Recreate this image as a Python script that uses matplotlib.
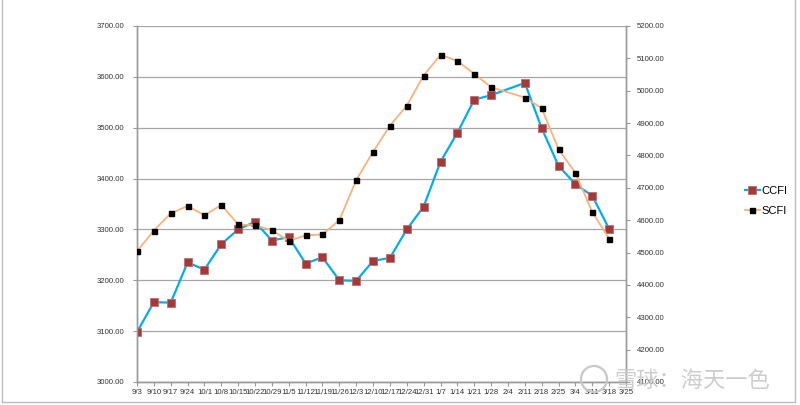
import numpy as np
import matplotlib
matplotlib.use('Agg')
import matplotlib.pyplot as plt
from matplotlib.lines import Line2D
from matplotlib.patches import Ellipse

# weekly index readings (2/4 has no data, holiday week)
dates = ['9/3', '9/10', '9/17', '9/24', '10/1', '10/8', '10/15', '10/22',
         '10/29', '11/5', '11/12', '11/19', '11/26', '12/3', '12/10', '12/17',
         '12/24', '12/31', '1/7', '1/14', '1/21', '1/28', '2/4', '2/11',
         '2/18', '2/25', '3/4', '3/11', '3/18', '3/25']
ccfi = [3098, 3157, 3156, 3235, 3221, 3271, 3300, 3315, 3278, 3285,
        3233, 3245, 3200, 3199, 3238, 3244, 3300, 3345, 3433, 3490,
        3555, 3564, np.nan, 3588, 3499, 3425, 3389, 3366, 3301, np.nan]
scfi = [4504, 4568, 4621, 4644, 4615, 4647, 4587, 4584, 4569, 4536,
        4553, 4556, 4600, 4724, 4811, 4892, 4954, 5047, 5111, 5092,
        5052, 5011, np.nan, 4979, 4946, 4819, 4746, 4625, 4543, np.nan]

left_ticks = np.arange(3000, 3701, 100)
right_ticks = np.arange(4100, 5201, 100)

GRID = '#A6A6A6'
AXIS = '#9A9A9A'
TXT = '#333333'
BLUE = '#00AEEF'
ORANGE = '#F9B27C'
RED = '#A23A3A'

plt.rcParams['font.family'] = ['Liberation Sans', 'DejaVu Sans']

fig = plt.figure(figsize=(8, 4.05), dpi=100)
fig.patch.set_facecolor('white')
ax = fig.add_axes([137 / 800, 23 / 405, 489 / 800, 356 / 405])
ax2 = ax.twinx()

x = np.arange(len(dates))
c = np.array(ccfi, dtype=float)
s = np.array(scfi, dtype=float)
mc = ~np.isnan(c)
ms = ~np.isnan(s)

ax.plot(x[mc], c[mc], color=BLUE, lw=1.6, marker='s', ms=5.5,
        mfc=RED, mec='#C46A6A', mew=0.6, zorder=3)
ax2.plot(x[ms], s[ms], color=ORANGE, lw=1.3, marker='s', ms=3.6,
         mfc='black', mec='black', zorder=3)

ax.set_xlim(0, len(dates) - 1)
ax.set_ylim(3000, 3700)
ax2.set_ylim(4100, 5200)
ax.set_xticks(x)
ax.set_xticklabels(dates)
ax.set_yticks(left_ticks)
ax.set_yticklabels([f'{v:.2f}' for v in left_ticks])
ax2.set_yticks(right_ticks)
ax2.set_yticklabels([f'{v:.2f}' for v in right_ticks])

ax.yaxis.grid(True, color=GRID, lw=0.9)
ax.set_axisbelow(True)

for a in (ax, ax2):
    a.spines['top'].set_visible(False)
    for side in ('left', 'right', 'bottom'):
        a.spines[side].set_color(AXIS)
        a.spines[side].set_linewidth(1.0)
    a.tick_params(colors=AXIS, labelcolor=TXT, labelsize=5.6, length=3,
                  width=0.8, pad=2)
ax.tick_params(axis='y', pad=6)
ax2.tick_params(axis='y', pad=5)

handles = [
    Line2D([], [], color=BLUE, lw=1.6, marker='s', ms=5.5, mfc=RED,
           mec='#C46A6A', mew=0.6),
    Line2D([], [], color=ORANGE, lw=1.3, marker='s', ms=3.6,
           mfc='black', mec='black'),
]
fig.legend(handles, ['CCFI', 'SCFI'], loc='center left',
           bbox_to_anchor=(739 / 800, 1 - 201 / 405), frameon=False,
           fontsize=8, handlelength=1.4, handletextpad=0.15,
           labelspacing=0.95, borderpad=0, numpoints=1)

# chart-area frame from the spreadsheet screenshot
frame = '#BDBDBD'
fig.add_artist(Line2D([1.5 / 800, 1.5 / 800], [3 / 405, 1], color=frame, lw=1))
fig.add_artist(Line2D([795 / 800, 795 / 800], [3 / 405, 1], color=frame, lw=1))
fig.add_artist(Line2D([1.5 / 800, 795 / 800], [3 / 405, 3 / 405], color=frame, lw=1))

# watermark
fig.add_artist(Ellipse((594 / 800, 1 - 379 / 405), 26 / 800, 26 / 405,
                       transform=fig.transFigure, facecolor='none',
                       edgecolor='#C8C8C8', lw=1.6))
fig.text(614 / 800, 1 - 380 / 405, '雪球：海天一色', fontsize=16,
         color='#C8C8C8', alpha=0.9, ha='left', va='center',
         family=['Noto Sans CJK SC', 'DejaVu Sans'])

fig.savefig('out.png', dpi=100, facecolor='white')
